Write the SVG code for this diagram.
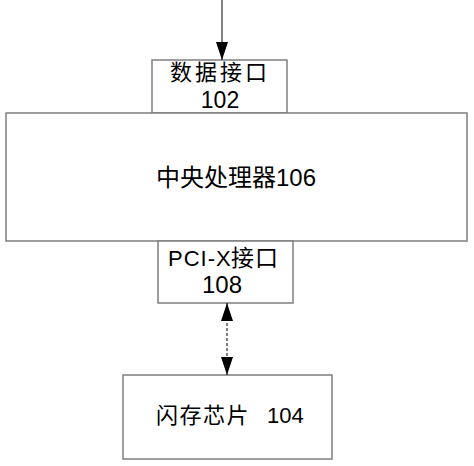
<svg xmlns="http://www.w3.org/2000/svg" width="474" height="466" viewBox="0 0 474 466">
<style>
.box{fill:#fff;stroke:#7f7f7f;stroke-width:1.5}
.t{font-family:"Liberation Sans","Noto Sans CJK SC",sans-serif;fill:#000}
.m{text-anchor:middle}
.c{stroke:#000;stroke-width:1;fill:none}
</style>
<defs>
<marker id="a2" viewBox="0 0 18 12" refX="18" refY="6" markerWidth="18" markerHeight="12" markerUnits="userSpaceOnUse" orient="auto-start-reverse"><path d="M0,0 L18,6 L0,12 Z" fill="#000"/></marker>
</defs>
<g id="n102"><rect class="box" x="152" y="60" width="135" height="53"/>
<text class="t" x="170" y="80" font-size="22" letter-spacing="3">数据接口</text>
<text class="t m" x="220" y="108" font-size="23">102</text></g>
<g id="n106"><rect class="box" x="6" y="113" width="461" height="128"/>
<text class="t" x="156" y="186" font-size="24">中央处理器106</text></g>
<g id="n108"><rect class="box" x="158" y="241" width="135" height="62"/>
<text class="t" y="266" font-size="22"><tspan x="168" letter-spacing="1">PCI-X</tspan><tspan x="231" font-size="23" letter-spacing="1">接口</tspan></text>
<text class="t m" x="222" y="293" font-size="24">108</text></g>
<g id="n104"><rect class="box" x="123" y="375" width="209" height="84"/>
<text class="t" y="423" font-size="22"><tspan x="156" letter-spacing="1.5">闪存芯片</tspan><tspan x="267">104</tspan></text></g>
<g id="connectors">
<line class="c" x1="222" y1="0" x2="222" y2="60" marker-end="url(#a2)"/>
<line class="c" x1="227" y1="303" x2="227" y2="375" stroke-dasharray="3,2" marker-start="url(#a2)" marker-end="url(#a2)"/>
</g>
</svg>
